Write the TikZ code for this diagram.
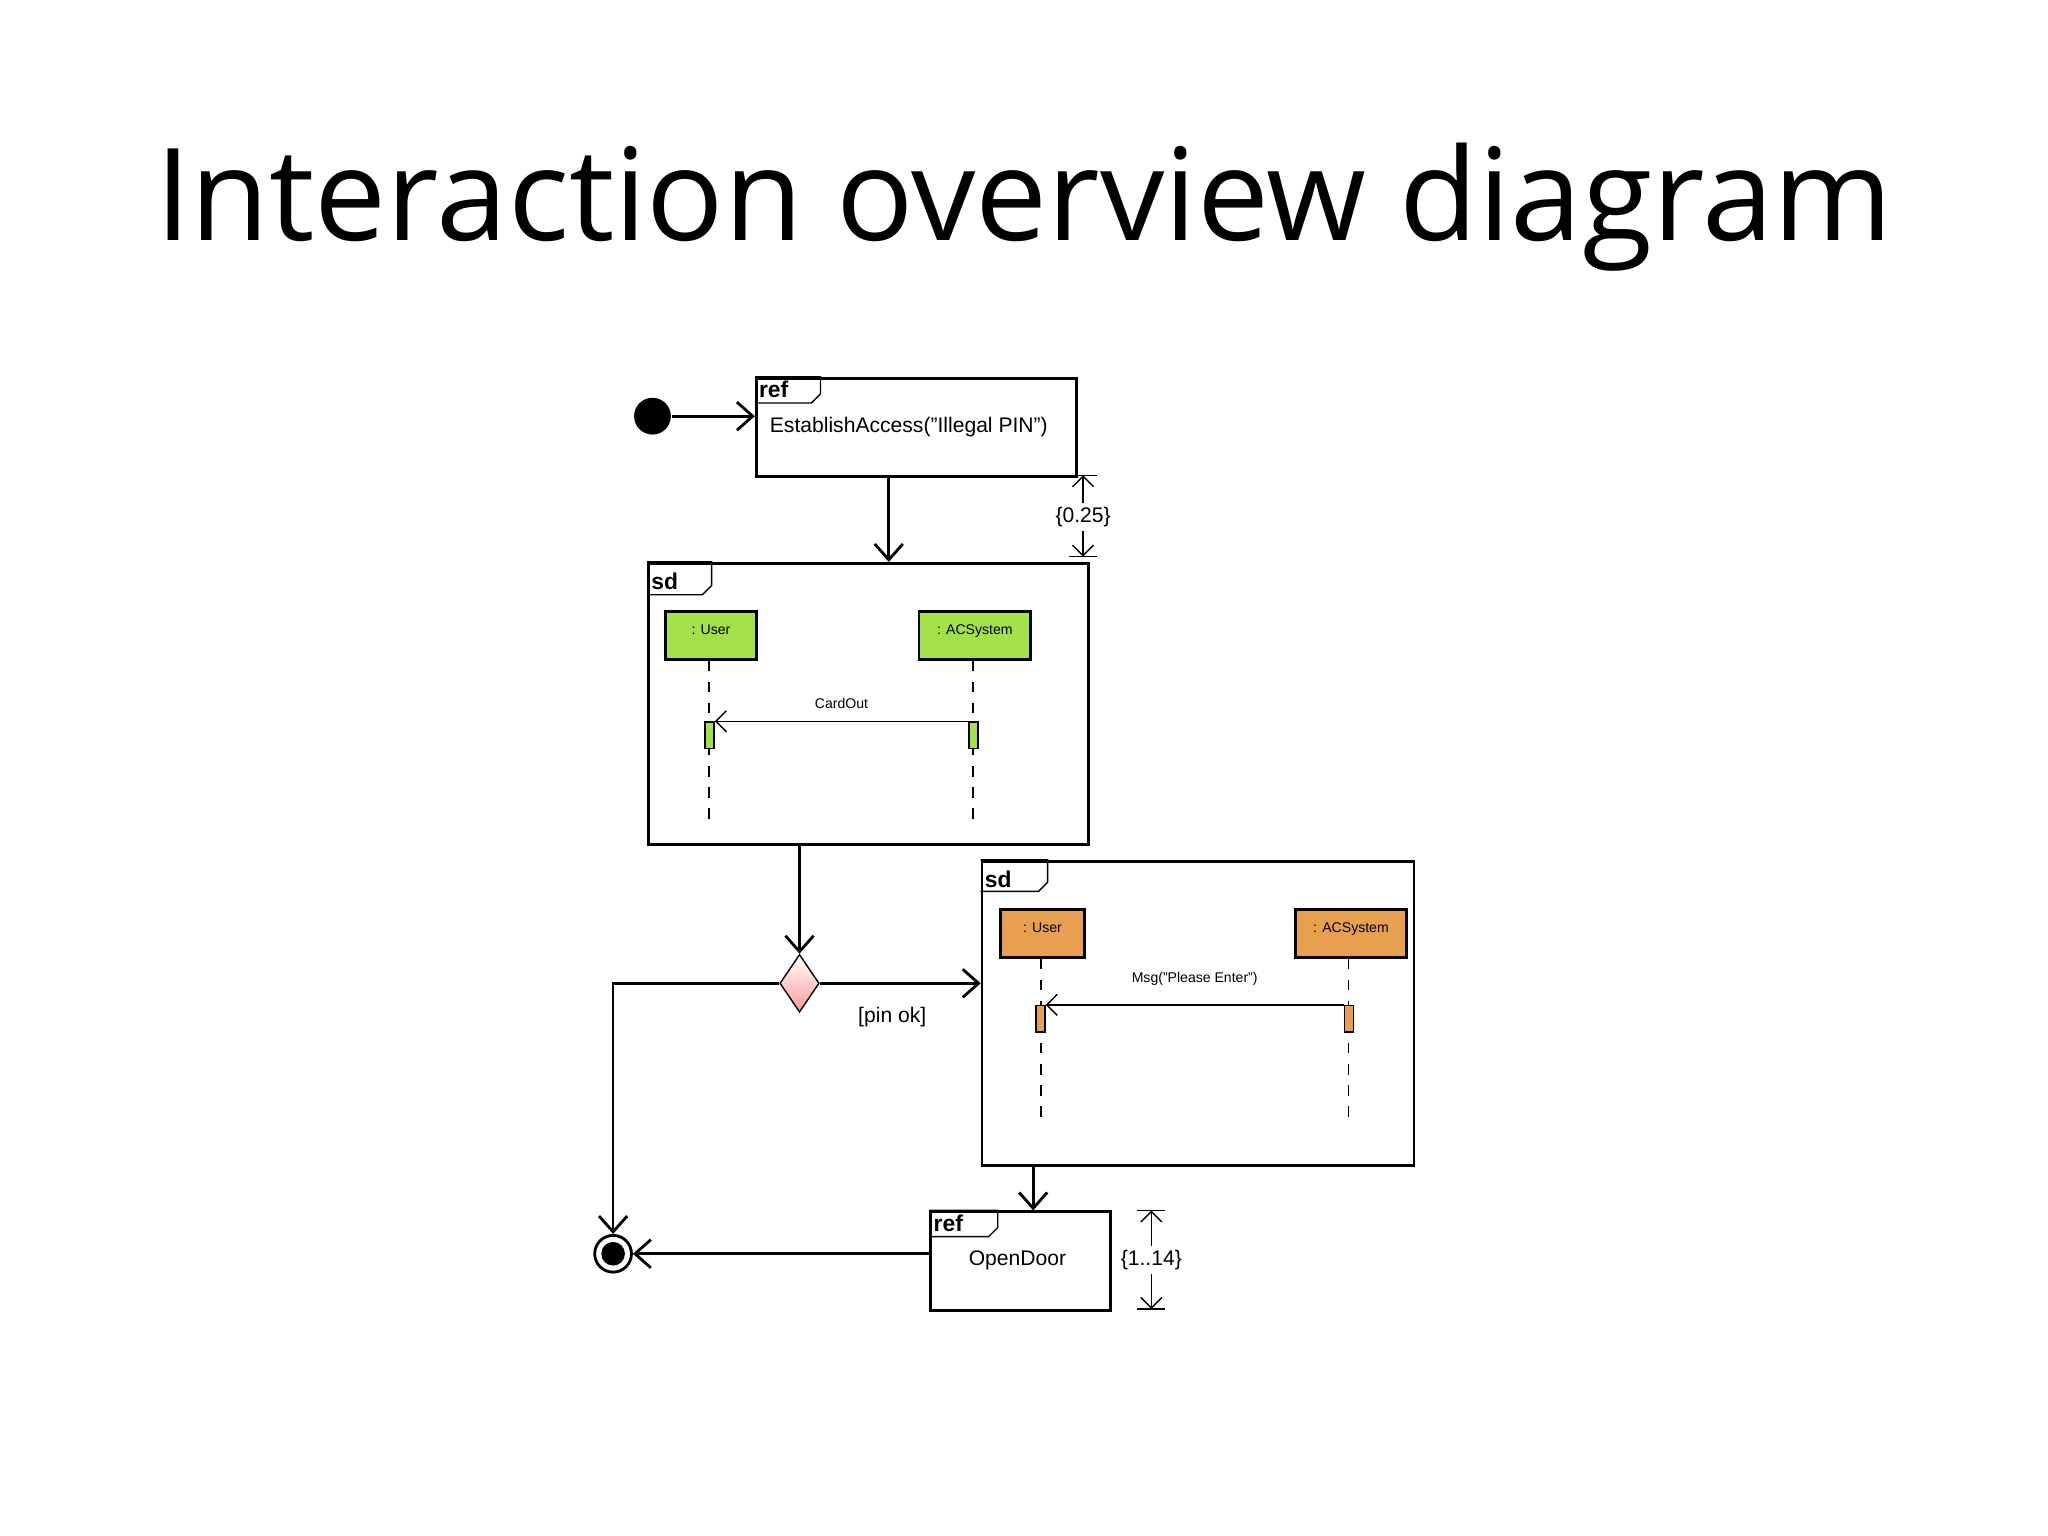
\documentclass[tikz,border=0pt]{standalone}
\usepackage{fontspec}
\setmainfont{Liberation Sans}
\newfontfamily\titlefont{Open Sans}
\usetikzlibrary{positioning,arrows.meta,shapes.geometric}
\newcommand{\pxl}{0.013128cm}
\definecolor{lifegreen}{RGB}{164,224,74}
\definecolor{lifeorange}{RGB}{232,160,80}
\tikzset{
frame/.style={rectangle, draw=black, thick, inner sep=0pt, anchor=north west},
tabtxt/.style={anchor=north west, inner sep=1pt, font=\fontsize{6.5}{7}\selectfont\bfseries},
head/.style={rectangle, draw=black, thick, anchor=north west, inner sep=0pt, font=\fontsize{4}{5}\selectfont},
bar/.style={rectangle, draw=black, inner sep=0pt, minimum width={7*\pxl}, minimum height={20*\pxl}},
lifeline/.style={dashed, thin},
connect/.style={-{Straight Barb[length=4.5pt,width=8pt]}, thick},
msg/.style={-{Straight Barb[length=3pt,width=6pt]}, thin},
small/.style={font=\fontsize{6}{7}\selectfont},
tiny/.style={font=\fontsize{4}{5}\selectfont}
}
\newcommand{\tab}[3]{% frame, right x, bottom y
  \draw[thin] (#1.north west) ++(0,{-#3*\pxl}) -- ++({#2*\pxl-7*\pxl},0) -- ++({7*\pxl},{7*\pxl}) |- (#1.north west);}

\begin{document}
\begin{tikzpicture}[x=\pxl, y=-\pxl]
        \useasboundingbox (3,3) rectangle (1563,1173);
        \node[font=\titlefont\fontsize{36.5}{40}\selectfont] (title) at (783,161) {Interaction overview diagram};

        % initial and final
        \node[circle, fill=black, minimum size={28*\pxl}, inner sep=0pt] (start) at (500,320) {};
        \node[circle, draw=black, thick, minimum size={28*\pxl}, inner sep=0pt] (stop) at (470,958) {};
        \node[circle, fill=black, minimum size={18*\pxl}, inner sep=0pt] at (stop) {};

        % EstablishAccess
        \node[frame, minimum width={244*\pxl}, minimum height={75*\pxl}] (ref1) at (578,290) {};
        \tab{ref1}{50}{20}
        \node[tabtxt] at (ref1.north west) {ref};
        \node[small, anchor=west] (ea) at (580,328) {EstablishAccess("Illegal PIN")};

        % first sd
        \node[frame, minimum width={335*\pxl}, minimum height={214*\pxl}] (sd1) at (496,431) {};
        \tab{sd1}{49}{25}
        \node[tabtxt] at ([yshift=-2pt]sd1.north west) {sd};
        \node[head, fill=lifegreen, minimum width={69*\pxl}, minimum height={36*\pxl}] (user1) at (509,468) {};
        \node[tiny, below=0.5pt of user1.north] {: User};
        \node[head, fill=lifegreen, minimum width={85*\pxl}, minimum height={36*\pxl}] (acs1) at (702,468) {};
        \node[tiny, below=0.5pt of acs1.north] {: ACSystem};
        \coordinate (u1end) at (543,630);
        \coordinate (a1end) at (744,630);
        \draw[lifeline] (user1.south -| u1end) -- (u1end);
        \draw[lifeline] (acs1.south -| a1end) -- (a1end);
        \node[bar, fill=lifegreen] (ub1) at (543.5,563) {};
        \node[bar, fill=lifegreen] (ab1) at (744.5,563) {};
        \draw[msg] (ab1.north west) -- node[tiny, above] {CardOut} (ub1.north east);

        % decision
        \node[diamond, draw=black, thin, top color=white, bottom color=pink!80!red, minimum width={30*\pxl}, minimum height={44*\pxl}, inner sep=0pt] (dec) at (612,752) {};

        % second sd
        \node[frame, minimum width={329*\pxl}, minimum height={232*\pxl}] (sd2) at (750,658) {};
        \tab{sd2}{51}{24}
        \node[tabtxt] at ([yshift=-2pt]sd2.north west) {sd};
        \node[head, fill=lifeorange, minimum width={64*\pxl}, minimum height={36*\pxl}] (user2) at (764,695) {};
        \node[tiny, below=0.5pt of user2.north] {: User};
        \node[head, fill=lifeorange, minimum width={84*\pxl}, minimum height={36*\pxl}] (acs2) at (989,695) {};
        \node[tiny, below=0.5pt of acs2.north] {: ACSystem};
        \coordinate (u2end) at (796,855);
        \coordinate (a2end) at (1030,855);
        \draw[lifeline] (user2.south -| u2end) -- (u2end);
        \draw[lifeline] (acs2.south -| a2end) -- (a2end);
        \node[bar, fill=lifeorange] (ub2) at (795.5,779) {};
        \node[bar, fill=lifeorange] (ab2) at (1030.5,779) {};
        \draw[msg] (ab2.north west) -- node[tiny, above, yshift=2pt] {Msg("Please Enter")} (ub2.north east);

        % OpenDoor
        \node[frame, minimum width={137*\pxl}, minimum height={75*\pxl}] (ref2) at (711,925) {};
        \tab{ref2}{52}{20}
        \node[tabtxt] at (ref2.north west) {ref};
        \node[small] (od) at (778,963) {OpenDoor};

        % durations
        \coordinate (d1a) at (828,365);
        \coordinate (d1b) at (828,427);
        \draw[thin] ([xshift=-4pt]d1a) -- ([xshift=4pt]d1a);
        \draw[thin] ([xshift=-4pt]d1b) -- ([xshift=4pt]d1b);
        \node[small, fill=white, inner sep=1pt] (d1) at (828,397) {\{0.25\}};
        \draw[msg] (d1) -- (d1a);
        \draw[msg] (d1) -- (d1b);
        \coordinate (d2a) at (880,925);
        \coordinate (d2b) at (880,1000);
        \draw[thin] ([xshift=-4pt]d2a) -- ([xshift=4pt]d2a);
        \draw[thin] ([xshift=-4pt]d2b) -- ([xshift=4pt]d2b);
        \node[small, fill=white, inner sep=1pt] (d2) at (880,963) {\{1..14\}};
        \draw[msg] (d2) -- (d2a);
        \draw[msg] (d2) -- (d2b);

        % flow
        \draw[connect] (start) -- (start -| ref1.west);
        \draw[connect] (ref1.south -| 680,0) -- (sd1.north -| 680,0);
        \draw[connect] (sd1.south -| dec) -- (dec.north);
        \draw[connect] (dec.east) -- node[small, below, pos=0.45, yshift=-3pt] {[pin ok]} (dec.east -| sd2.west);
        \draw[connect] (dec.west) -| (stop.north);
        \draw[connect] (sd2.south -| 790,0) -- (ref2.north -| 790,0);
        \draw[connect] (ref2.west |- stop) -- (stop.east);
    \end{tikzpicture}
\end{document}
